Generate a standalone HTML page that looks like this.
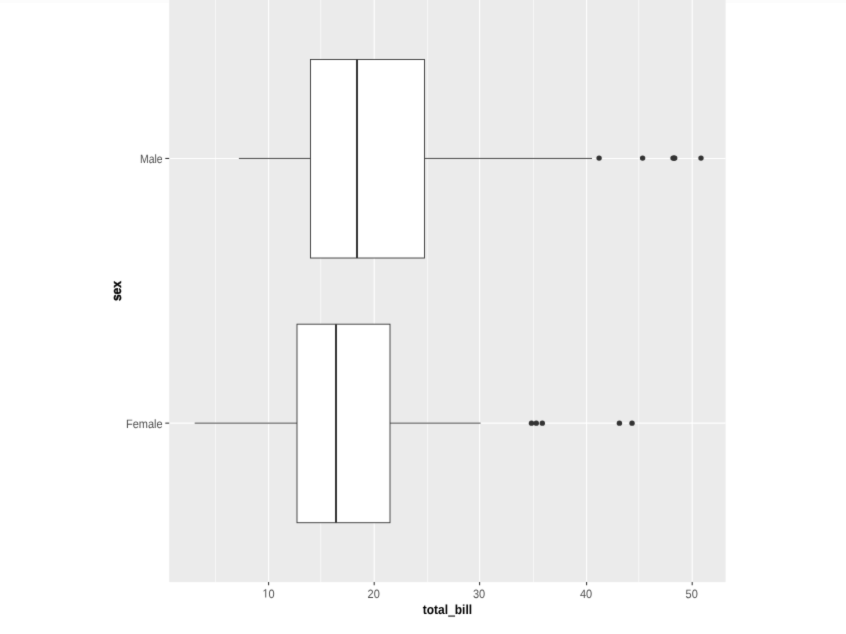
<!DOCTYPE html>
<html><head><meta charset="utf-8"><style>
html,body{margin:0;padding:0;background:#fff;}
body{width:846px;height:634px;overflow:hidden;}
svg{display:block;}
text{text-rendering:geometricPrecision;}
.tx{font-family:"Liberation Sans",sans-serif;font-size:11.0px;fill:#4D4D4D;}
.tt{font-family:"Liberation Sans",sans-serif;font-size:12px;font-weight:bold;fill:#000;}
</style></head><body>
<svg width="846" height="634" viewBox="0 0 846 634">
<defs><filter id="b" x="0" y="0" width="846" height="634" filterUnits="userSpaceOnUse" color-interpolation-filters="sRGB"><feConvolveMatrix order="3" kernelMatrix="0.01134 0.08382 0.01134 0.08382 0.61935 0.08382 0.01134 0.08382 0.01134" edgeMode="duplicate" preserveAlpha="true"/></filter></defs>
<rect width="846" height="634" fill="#FFFFFF"/>
<g filter="url(#b)">
<rect width="846" height="634" fill="#FFFFFF"/>
<rect x="0" y="0" width="846" height="3" fill="#FCFCFC"/>
<rect x="169.2" y="0.0" width="556.40" height="582.10" fill="#EBEBEB"/>
<line x1="215.50" x2="215.50" y1="0.0" y2="582.1" stroke="#FFFFFF" stroke-width="0.6"/>
<line x1="320.70" x2="320.70" y1="0.0" y2="582.1" stroke="#FFFFFF" stroke-width="0.6"/>
<line x1="427.60" x2="427.60" y1="0.0" y2="582.1" stroke="#FFFFFF" stroke-width="0.6"/>
<line x1="533.50" x2="533.50" y1="0.0" y2="582.1" stroke="#FFFFFF" stroke-width="0.6"/>
<line x1="638.70" x2="638.70" y1="0.0" y2="582.1" stroke="#FFFFFF" stroke-width="0.6"/>
<line x1="268.60" x2="268.60" y1="0.0" y2="582.1" stroke="#FFFFFF" stroke-width="1.07"/>
<line x1="374.20" x2="374.20" y1="0.0" y2="582.1" stroke="#FFFFFF" stroke-width="1.07"/>
<line x1="479.60" x2="479.60" y1="0.0" y2="582.1" stroke="#FFFFFF" stroke-width="1.07"/>
<line x1="586.60" x2="586.60" y1="0.0" y2="582.1" stroke="#FFFFFF" stroke-width="1.07"/>
<line x1="692.20" x2="692.20" y1="0.0" y2="582.1" stroke="#FFFFFF" stroke-width="1.07"/>
<line x1="169.2" x2="725.6" y1="423.14" y2="423.14" stroke="#FFFFFF" stroke-width="1.07"/>
<line x1="169.2" x2="725.6" y1="158.45" y2="158.45" stroke="#FFFFFF" stroke-width="1.07"/>
<line x1="238.90" x2="310.50" y1="158.45" y2="158.45" stroke="#333333" stroke-width="0.9"/>
<line x1="424.50" x2="592.00" y1="158.45" y2="158.45" stroke="#333333" stroke-width="0.9"/>
<rect x="310.50" y="59.50" width="114.00" height="198.52" fill="#FFFFFF" stroke="#333333" stroke-width="0.9"/>
<line x1="357.00" x2="357.00" y1="59.50" y2="258.01" stroke="#333333" stroke-width="2.0"/>
<ellipse cx="599.09" cy="158.05" rx="2.7" ry="2.62" fill="#333333"/>
<ellipse cx="642.61" cy="158.05" rx="2.7" ry="2.62" fill="#333333"/>
<ellipse cx="673.03" cy="158.05" rx="2.7" ry="2.62" fill="#333333"/>
<ellipse cx="674.09" cy="158.05" rx="2.7" ry="2.62" fill="#333333"/>
<ellipse cx="674.72" cy="158.05" rx="2.7" ry="2.62" fill="#333333"/>
<ellipse cx="700.99" cy="158.05" rx="2.7" ry="2.62" fill="#333333"/>
<line x1="194.70" x2="297.00" y1="423.14" y2="423.14" stroke="#333333" stroke-width="0.9"/>
<line x1="390.00" x2="480.60" y1="423.14" y2="423.14" stroke="#333333" stroke-width="0.9"/>
<rect x="297.00" y="324.19" width="93.00" height="198.52" fill="#FFFFFF" stroke="#333333" stroke-width="0.9"/>
<line x1="336.00" x2="336.00" y1="324.19" y2="522.70" stroke="#333333" stroke-width="2.0"/>
<ellipse cx="531.50" cy="423.14" rx="2.7" ry="2.62" fill="#333333"/>
<ellipse cx="536.27" cy="423.14" rx="2.7" ry="2.62" fill="#333333"/>
<ellipse cx="542.31" cy="423.14" rx="2.7" ry="2.62" fill="#333333"/>
<ellipse cx="619.43" cy="423.14" rx="2.7" ry="2.62" fill="#333333"/>
<ellipse cx="632.03" cy="423.14" rx="2.7" ry="2.62" fill="#333333"/>
<line x1="268.60" x2="268.60" y1="582.1" y2="585.30" stroke="#333333" stroke-width="1.07"/>
<path transform="translate(262.48 597.6) scale(0.005371 -0.005908)" d="M515 0L515 1237L197 1010L197 1180L530 1409L696 1409L696 0Z" fill="#4D4D4D"/>
<text transform="translate(268.60 597.60) scale(1 1.1)" text-anchor="start" class="tx">0</text>
<line x1="374.20" x2="374.20" y1="582.1" y2="585.30" stroke="#333333" stroke-width="1.07"/>
<text transform="translate(373.70 597.60) scale(1 1.1)" text-anchor="middle" class="tx">20</text>
<line x1="479.60" x2="479.60" y1="582.1" y2="585.30" stroke="#333333" stroke-width="1.07"/>
<text transform="translate(479.10 597.60) scale(1 1.1)" text-anchor="middle" class="tx">30</text>
<line x1="586.60" x2="586.60" y1="582.1" y2="585.30" stroke="#333333" stroke-width="1.07"/>
<text transform="translate(586.10 597.60) scale(1 1.1)" text-anchor="middle" class="tx">40</text>
<line x1="692.20" x2="692.20" y1="582.1" y2="585.30" stroke="#333333" stroke-width="1.07"/>
<text transform="translate(691.70 597.60) scale(1 1.1)" text-anchor="middle" class="tx">50</text>
<line x1="165.30" x2="169.2" y1="423.14" y2="423.14" stroke="#333333" stroke-width="1.07"/>
<text transform="translate(162.60 427.90) scale(1 1.1)" text-anchor="end" class="tx">Female</text>
<line x1="165.30" x2="169.2" y1="158.45" y2="158.45" stroke="#333333" stroke-width="1.07"/>
<text transform="translate(162.60 163.00) scale(0.95 1.1)" text-anchor="end" class="tx">Male</text>
<text transform="translate(422.73 613.80) scale(1 1.1)" text-anchor="start" class="tt">total</text>
<text transform="translate(454.73 613.80) scale(1 1.1)" text-anchor="start" class="tt">bill</text>
<rect x="448.16" y="615.55" width="6.9" height="1.05" fill="#000"/>
<text transform="translate(120.9 291.05) rotate(-90) scale(1 1.1)" text-anchor="middle" class="tt" stroke="#000" stroke-width="0.35">sex</text>
</g>

</svg>
</body></html>
